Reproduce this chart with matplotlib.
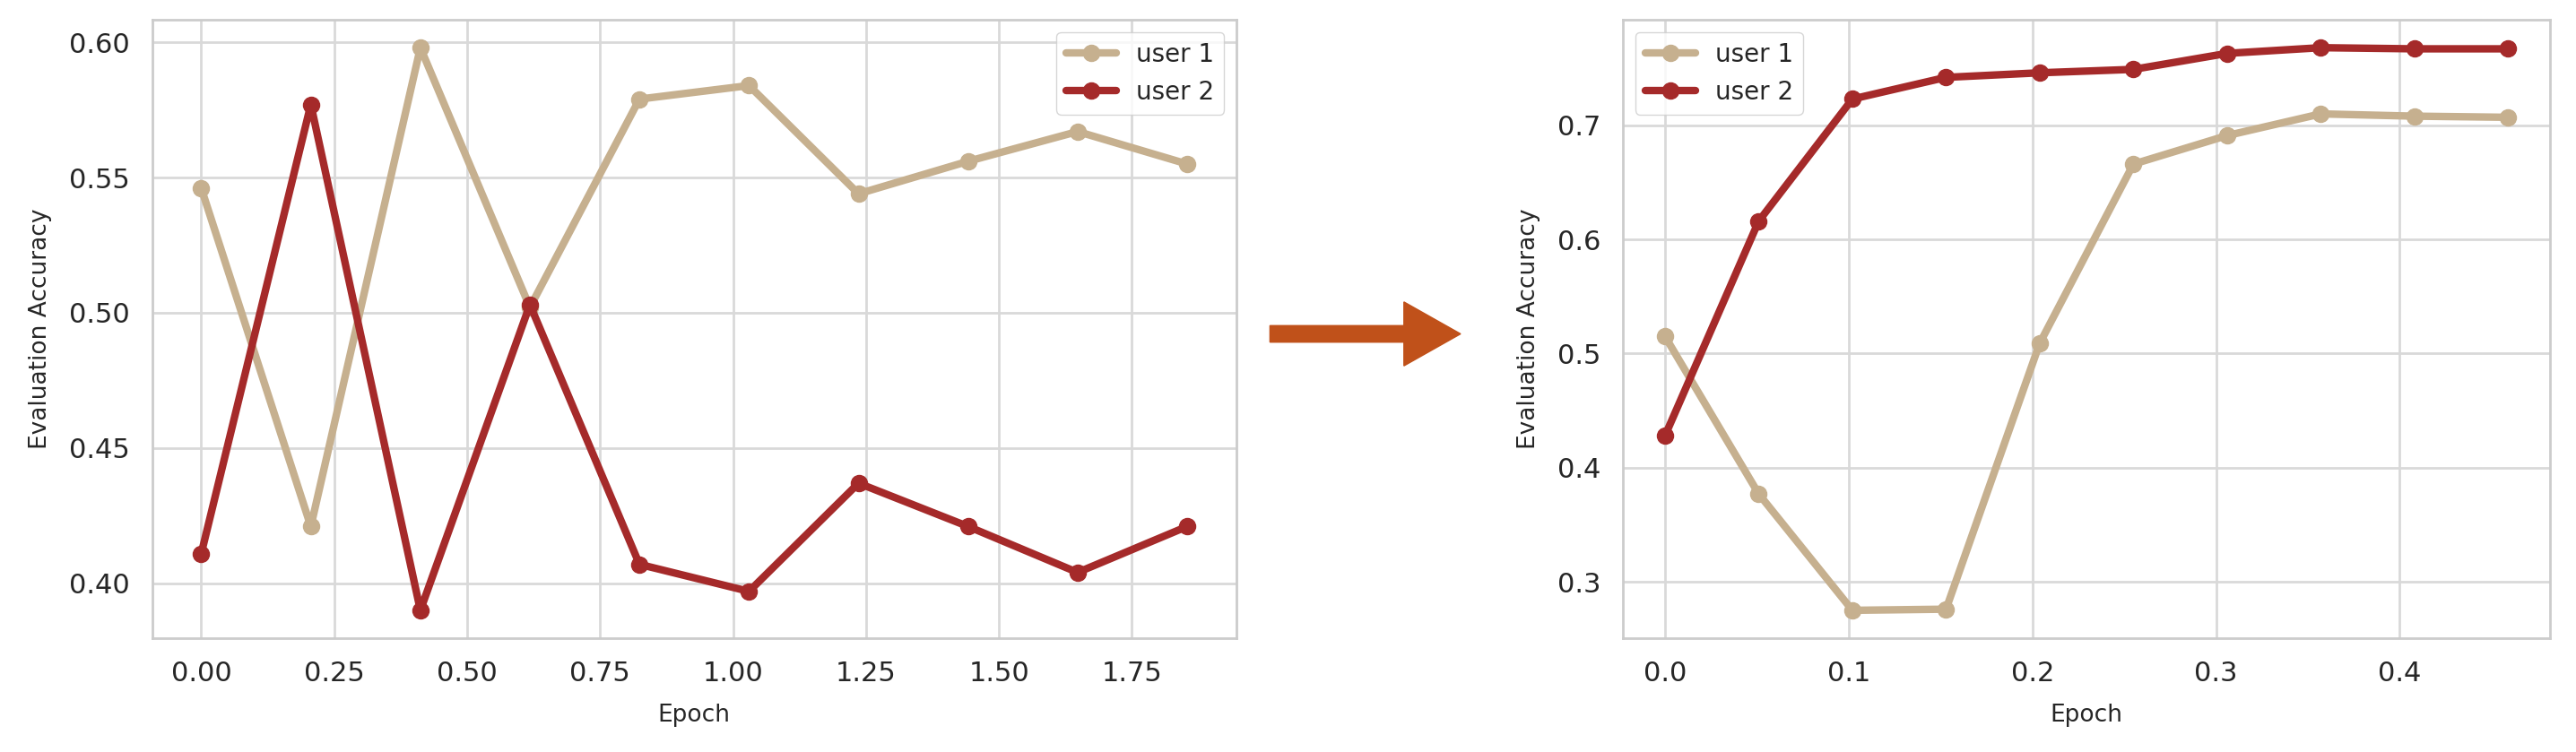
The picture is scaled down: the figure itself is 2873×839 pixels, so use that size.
import matplotlib
matplotlib.use("Agg")
import matplotlib.pyplot as plt
import seaborn as sns
from matplotlib.patches import FancyArrow

# left panel
epoch_left = [0.0, 0.206, 0.412, 0.618, 0.824, 1.030, 1.236, 1.442, 1.648, 1.854]
user1_left = [0.546, 0.421, 0.598, 0.502, 0.579, 0.584, 0.544, 0.556, 0.567, 0.555]
user2_left = [0.411, 0.577, 0.390, 0.503, 0.407, 0.397, 0.437, 0.421, 0.404, 0.421]

# right panel
epoch_right = [0.0, 0.051, 0.102, 0.153, 0.204, 0.255, 0.306, 0.357, 0.408, 0.459]
user1_right = [0.515, 0.377, 0.275, 0.276, 0.509, 0.666, 0.691, 0.710, 0.708, 0.707]
user2_right = [0.428, 0.616, 0.723, 0.742, 0.746, 0.749, 0.763, 0.768, 0.767, 0.767]

tan = '#c6b08f'
red = '#a52a2a'

sns.set_style("whitegrid")
plt.rcParams['font.family'] = ['DejaVu Sans']

fig = plt.figure(figsize=(28.73, 8.39), dpi=100)
ax1 = fig.add_axes([0.059, 0.151, 0.421, 0.823])
ax2 = fig.add_axes([0.630, 0.151, 0.360, 0.823])

for ax, x, u1, u2, loc in [(ax1, epoch_left, user1_left, user2_left, 'upper right'),
                           (ax2, epoch_right, user1_right, user2_right, 'upper left')]:
    ax.plot(x, u1, color=tan, lw=6, marker='o', ms=13, label='user 1')
    ax.plot(x, u2, color=red, lw=6, marker='o', ms=13, label='user 2')
    ax.set_xlabel('Epoch', fontsize=19, labelpad=14)
    ax.set_ylabel('Evaluation Accuracy', fontsize=19, labelpad=14)
    ax.tick_params(labelsize=22, pad=14)
    for s in ax.spines.values():
        s.set_color('#cccccc')
        s.set_linewidth(2)
    ax.grid(color='#d9d9d9', lw=2)
    ax.legend(loc=loc, fontsize=20)

ax1.set_yticks([0.40, 0.45, 0.50, 0.55, 0.60])
ax1.set_yticklabels(['0.40', '0.45', '0.50', '0.55', '0.60'])

arrow = FancyArrow(0.493, 0.556, 0.074, 0, width=0.022, head_width=0.085,
                   head_length=0.022, length_includes_head=True,
                   color='#c0511a', transform=fig.transFigure)
fig.patches.append(arrow)

fig.savefig('out.png', dpi=100)
